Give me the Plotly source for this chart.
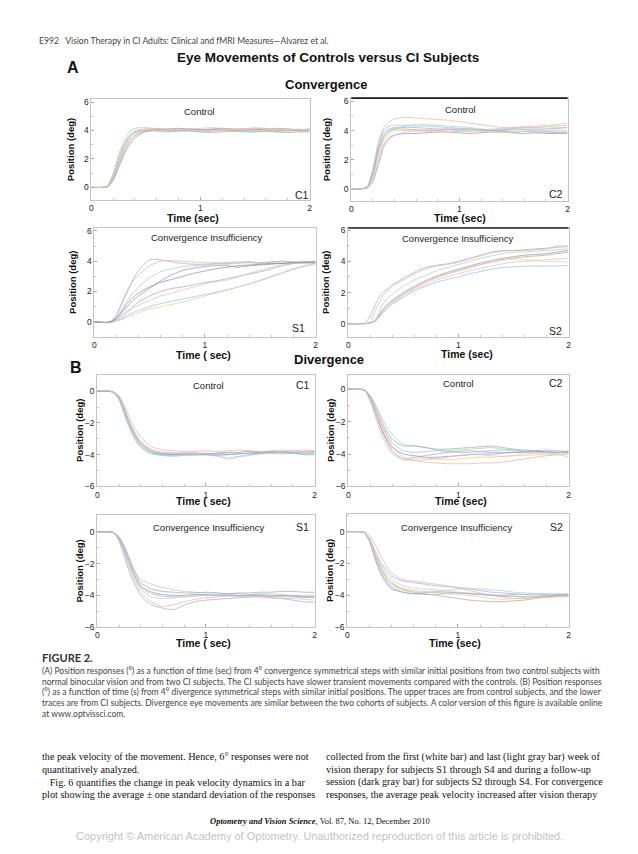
import plotly.graph_objects as go

# ---------------- data ----------------
T = [0, 0.1, 0.15, 0.2, 0.25, 0.3, 0.35, 0.4, 0.5, 0.6, 0.7, 0.8, 0.9, 1.0,
     1.1, 1.2, 1.3, 1.4, 1.5, 1.6, 1.7, 1.8, 1.9, 2.0]

conv_c1 = [
    [0, 0, 0.1, 0.8, 2.0, 3.0, 3.6, 3.9, 4.1, 4.1, 4.0, 4.1, 4.05, 4.1, 4.0, 4.1, 4.05, 4.0, 4.1, 4.05, 4.0, 4.1, 4.0, 4.05],
    [0, 0, 0.05, 0.6, 1.6, 2.6, 3.3, 3.7, 4.0, 4.05, 4.1, 4.0, 4.1, 4.0, 4.05, 4.1, 4.0, 4.1, 4.15, 4.1, 4.0, 4.0, 4.05, 4.0],
    [0, 0, 0.15, 1.0, 2.3, 3.3, 3.9, 4.15, 4.2, 4.1, 4.05, 4.0, 3.95, 4.0, 4.05, 4.0, 3.95, 4.0, 4.0, 3.95, 3.9, 3.95, 4.0, 4.0],
    [0, 0, 0.05, 0.5, 1.4, 2.3, 3.0, 3.5, 3.95, 4.05, 4.1, 4.15, 4.1, 4.05, 4.1, 4.15, 4.1, 4.1, 4.05, 4.1, 4.15, 4.1, 4.05, 4.1],
    [0, 0, 0.1, 0.7, 1.8, 2.8, 3.5, 3.85, 4.0, 3.95, 3.9, 3.95, 4.0, 3.9, 3.85, 3.9, 3.95, 3.9, 3.9, 3.95, 3.9, 3.85, 3.9, 3.9],
    [0, 0, 0.1, 0.9, 2.1, 3.1, 3.7, 4.0, 4.1, 4.15, 4.1, 4.05, 4.1, 4.15, 4.2, 4.15, 4.1, 4.1, 4.2, 4.15, 4.1, 4.05, 4.0, 4.1],
    [0, 0, 0.05, 0.55, 1.5, 2.5, 3.2, 3.65, 3.9, 4.0, 3.95, 4.0, 3.95, 3.9, 3.95, 4.0, 4.0, 3.95, 3.9, 4.0, 4.05, 4.0, 3.95, 3.95],
    [0, 0, 0.1, 0.75, 1.9, 2.9, 3.55, 3.9, 4.05, 4.0, 4.05, 4.1, 4.0, 4.05, 4.0, 3.95, 4.05, 4.1, 4.0, 4.05, 4.1, 4.05, 4.1, 4.0],
]

conv_c2 = [
    [0, 0.05, 0.2, 1.2, 2.8, 3.8, 4.1, 4.2, 4.2, 4.2, 4.15, 4.1, 4.1, 4.05, 4.1, 4.05, 4.0, 4.05, 4.1, 4.1, 4.1, 4.1, 4.15, 4.2],
    [0, 0.05, 0.2, 1.4, 3.2, 4.2, 4.6, 4.8, 4.9, 4.85, 4.8, 4.75, 4.7, 4.6, 4.5, 4.4, 4.3, 4.2, 4.2, 4.25, 4.3, 4.35, 4.4, 4.5],
    [0, 0.05, 0.15, 0.9, 2.4, 3.5, 3.9, 4.1, 4.3, 4.4, 4.4, 4.35, 4.3, 4.25, 4.2, 4.1, 4.05, 4.1, 4.15, 4.2, 4.2, 4.25, 4.3, 4.35],
    [0, 0.05, 0.1, 0.6, 1.8, 3.0, 3.5, 3.7, 3.8, 3.8, 3.85, 3.9, 3.9, 3.85, 3.8, 3.85, 3.9, 3.9, 3.85, 3.8, 3.85, 3.8, 3.8, 3.8],
    [0, 0.05, 0.15, 1.0, 2.6, 3.6, 4.0, 4.1, 4.1, 4.05, 4.0, 4.0, 4.05, 4.0, 3.95, 4.0, 4.0, 3.95, 3.9, 3.95, 3.9, 3.9, 3.85, 3.85],
    [0, 0.05, 0.1, 0.5, 1.6, 2.8, 3.4, 3.65, 3.9, 4.0, 4.05, 4.1, 4.1, 4.15, 4.1, 4.05, 4.1, 4.15, 4.2, 4.25, 4.2, 4.15, 4.2, 4.2],
    [0, 0.05, 0.2, 1.3, 3.0, 4.0, 4.3, 4.35, 4.35, 4.3, 4.3, 4.25, 4.2, 4.15, 4.1, 4.05, 4.0, 4.0, 4.05, 4.05, 4.0, 3.95, 3.95, 3.9],
    [0, 0.05, 0.15, 0.8, 2.2, 3.3, 3.8, 4.0, 4.0, 3.95, 3.95, 3.9, 3.9, 3.95, 4.0, 3.95, 3.9, 3.85, 3.9, 3.95, 4.0, 4.0, 4.05, 4.0],
]

conv_s1 = [
    [0, -0.05, 0, 0.4, 1.2, 2.0, 2.8, 3.4, 4.1, 4.1, 3.95, 3.85, 3.8, 3.8, 3.85, 3.9, 3.95, 3.95, 3.9, 3.95, 4.0, 3.95, 3.9, 3.9],
    [0, -0.05, 0.05, 0.5, 1.3, 2.1, 2.7, 3.1, 3.7, 4.0, 4.05, 4.0, 3.95, 3.9, 3.9, 3.85, 3.9, 3.95, 3.9, 3.95, 4.0, 3.95, 4.0, 3.9],
    [0, -0.05, 0, 0.3, 0.8, 1.4, 1.9, 2.3, 2.9, 3.3, 3.5, 3.65, 3.7, 3.75, 3.8, 3.8, 3.85, 3.9, 3.85, 3.9, 3.95, 3.9, 3.95, 4.0],
    [0, -0.05, 0, 0.2, 0.6, 1.0, 1.4, 1.7, 2.2, 2.7, 3.1, 3.4, 3.55, 3.65, 3.7, 3.7, 3.6, 3.7, 3.75, 3.8, 3.85, 3.9, 3.9, 3.95],
    [0, -0.05, 0, 0.15, 0.4, 0.7, 1.0, 1.3, 1.7, 2.0, 2.2, 2.3, 2.45, 2.6, 2.7, 2.85, 3.0, 3.15, 3.3, 3.5, 3.7, 3.85, 3.95, 4.0],
    [0, -0.05, -0.05, 0.1, 0.3, 0.6, 0.9, 1.1, 1.4, 1.7, 1.9, 2.1, 2.3, 2.5, 2.65, 2.75, 2.95, 3.2, 3.4, 3.6, 3.75, 3.85, 3.9, 3.95],
    [0, -0.05, -0.05, 0.05, 0.2, 0.4, 0.6, 0.75, 1.0, 1.2, 1.35, 1.5, 1.65, 1.8, 1.95, 2.1, 2.3, 2.5, 2.75, 3.0, 3.25, 3.5, 3.7, 3.85],
    [0, -0.05, -0.05, 0.05, 0.15, 0.3, 0.45, 0.6, 0.85, 1.0, 1.15, 1.3, 1.5, 1.7, 1.9, 2.1, 2.3, 2.5, 2.7, 2.95, 3.2, 3.45, 3.65, 3.8],
    [0, -0.05, 0, 0.25, 0.7, 1.2, 1.6, 1.9, 2.3, 2.6, 2.8, 3.0, 3.2, 3.35, 3.5, 3.6, 3.7, 3.75, 3.8, 3.85, 3.85, 3.9, 3.9, 3.9],
]

conv_s2 = [
    [0, 0, 0.05, 0.5, 1.3, 1.9, 2.2, 2.5, 2.9, 3.3, 3.6, 3.75, 3.85, 4.0, 4.2, 4.4, 4.6, 4.7, 4.7, 4.75, 4.8, 4.85, 4.9, 4.95],
    [0, 0, 0, 0.1, 0.9, 1.6, 2.1, 2.4, 2.8, 3.2, 3.5, 3.7, 3.8, 3.95, 4.15, 4.35, 4.55, 4.65, 4.7, 4.7, 4.75, 4.8, 5.0, 5.0],
    [0, 0, 0, 0.05, 0.3, 1.1, 1.6, 1.9, 2.4, 2.8, 3.1, 3.4, 3.6, 3.8, 4.0, 4.2, 4.35, 4.5, 4.6, 4.6, 4.65, 4.7, 4.75, 4.8],
    [0, 0, 0, 0.05, 0.2, 0.8, 1.2, 1.5, 2.0, 2.4, 2.75, 3.05, 3.3, 3.5, 3.7, 3.9, 4.05, 4.2, 4.3, 4.4, 4.45, 4.5, 4.6, 4.7],
    [0, 0, 0, 0.05, 0.2, 0.7, 1.1, 1.4, 1.9, 2.3, 2.65, 2.95, 3.2, 3.4, 3.6, 3.8, 3.95, 4.1, 4.2, 4.3, 4.35, 4.4, 4.5, 4.6],
    [0, 0, 0, 0.05, 0.2, 0.6, 1.0, 1.3, 1.8, 2.2, 2.5, 2.8, 3.0, 3.2, 3.4, 3.55, 3.7, 3.85, 3.95, 4.0, 4.05, 4.1, 4.15, 4.2],
    [0, 0, 0, 0.05, 0.2, 0.6, 0.95, 1.25, 1.7, 2.1, 2.4, 2.65, 2.85, 3.0, 3.2, 3.35, 3.5, 3.6, 3.65, 3.7, 3.7, 3.7, 3.7, 3.75],
    [0, 0, 0, 0.05, 0.25, 0.8, 1.2, 1.5, 2.0, 2.4, 2.75, 3.0, 3.2, 3.4, 3.6, 3.8, 3.95, 4.1, 4.15, 4.1, 4.05, 4.0, 4.0, 3.95],
]

div_c1 = [
    [0, 0, -0.05, -0.4, -1.2, -2.1, -2.8, -3.3, -3.8, -3.95, -4.0, -4.0, -3.95, -3.9, -3.95, -4.0, -3.95, -3.9, -3.85, -3.9, -3.95, -3.9, -3.9, -3.95],
    [0, 0, -0.05, -0.3, -0.9, -1.7, -2.4, -2.9, -3.5, -3.7, -3.75, -3.8, -3.8, -3.75, -3.8, -3.75, -3.7, -3.75, -3.8, -3.75, -3.7, -3.75, -3.7, -3.75],
    [0, 0, -0.1, -0.5, -1.4, -2.3, -3.0, -3.5, -3.9, -4.0, -4.05, -4.0, -4.05, -4.0, -4.1, -4.2, -4.1, -4.0, -3.95, -3.9, -3.85, -3.9, -3.95, -3.9],
    [0, 0, -0.05, -0.35, -1.1, -2.0, -2.7, -3.2, -3.7, -3.9, -3.95, -3.9, -3.9, -3.95, -3.9, -3.85, -3.85, -3.8, -3.85, -3.8, -3.8, -3.85, -3.8, -3.8],
    [0, 0, -0.05, -0.45, -1.3, -2.2, -2.9, -3.4, -3.85, -4.0, -4.0, -3.95, -3.95, -4.0, -4.05, -4.0, -3.95, -3.9, -3.9, -3.85, -3.85, -3.9, -4.0, -4.0],
    [0, 0, -0.05, -0.4, -1.2, -2.1, -2.8, -3.3, -3.75, -3.85, -3.85, -3.9, -3.9, -3.95, -4.0, -4.3, -4.15, -4.05, -3.95, -3.9, -3.8, -3.75, -3.8, -3.8],
    [0, 0, -0.1, -0.55, -1.5, -2.4, -3.1, -3.55, -3.95, -4.05, -4.1, -4.05, -4.0, -4.0, -3.95, -3.9, -3.9, -3.95, -3.9, -3.85, -3.8, -3.85, -3.9, -3.85],
]

div_c2 = [
    [0, 0, -0.1, -0.7, -1.6, -2.5, -3.2, -3.8, -4.3, -4.2, -4.1, -4.0, -3.9, -3.85, -3.8, -3.85, -3.9, -3.9, -3.9, -3.85, -3.8, -3.75, -3.8, -3.85],
    [0, 0, -0.05, -0.5, -1.3, -2.2, -2.9, -3.5, -4.2, -4.4, -4.5, -4.55, -4.6, -4.6, -4.6, -4.55, -4.55, -4.5, -4.4, -4.3, -4.2, -4.1, -4.05, -4.0],
    [0, 0, -0.05, -0.4, -1.0, -1.7, -2.3, -2.8, -3.4, -3.5, -3.6, -3.75, -3.8, -3.75, -3.7, -3.65, -3.6, -3.7, -3.75, -3.8, -3.8, -3.9, -4.0, -4.2],
    [0, 0, -0.1, -0.6, -1.5, -2.4, -3.1, -3.6, -4.0, -4.1, -4.2, -4.2, -4.15, -4.1, -4.05, -4.0, -4.0, -3.95, -3.9, -3.9, -3.85, -3.85, -3.9, -3.9],
    [0, 0, -0.05, -0.45, -1.1, -1.9, -2.6, -3.1, -3.5, -3.5, -3.6, -3.7, -3.7, -3.65, -3.6, -3.55, -3.5, -3.6, -3.7, -3.75, -3.8, -3.85, -3.9, -3.9],
    [0, 0, -0.1, -0.8, -1.8, -2.8, -3.5, -4.0, -4.3, -4.4, -4.35, -4.3, -4.2, -4.1, -4.0, -4.05, -4.1, -4.15, -4.1, -4.0, -3.95, -3.9, -3.85, -3.85],
    [0, 0, -0.05, -0.5, -1.3, -2.1, -2.8, -3.3, -3.8, -3.9, -3.85, -3.8, -3.85, -3.9, -3.9, -3.85, -3.8, -3.75, -3.8, -3.85, -3.9, -3.95, -3.9, -3.8],
    [0, 0, -0.1, -0.65, -1.6, -2.6, -3.3, -3.9, -4.4, -4.3, -4.25, -4.3, -4.35, -4.3, -4.25, -4.2, -4.2, -4.15, -4.1, -4.1, -4.05, -4.05, -4.0, -4.0],
]

div_s1 = [
    [0, 0, -0.05, -0.6, -1.6, -2.6, -3.4, -4.0, -4.6, -4.8, -4.9, -4.6, -4.4, -4.3, -4.25, -4.2, -4.15, -4.1, -4.1, -4.15, -4.2, -4.3, -4.4, -4.45],
    [0, 0, -0.05, -0.5, -1.4, -2.4, -3.2, -3.8, -4.4, -4.7, -4.6, -4.4, -4.25, -4.15, -4.1, -4.05, -4.0, -4.0, -4.05, -4.05, -4.1, -4.1, -4.15, -4.1],
    [0, 0, -0.05, -0.3, -0.9, -1.7, -2.5, -3.0, -3.3, -3.5, -3.65, -3.75, -3.8, -3.85, -3.85, -3.9, -3.9, -3.95, -3.9, -3.9, -3.95, -4.0, -4.0, -4.0],
    [0, 0, -0.05, -0.4, -1.1, -2.0, -2.8, -3.4, -3.8, -3.95, -4.0, -4.0, -3.95, -3.95, -4.0, -4.0, -4.05, -4.0, -4.0, -4.05, -4.0, -4.05, -4.1, -4.1],
    [0, 0, -0.05, -0.35, -1.0, -1.8, -2.6, -3.2, -3.6, -3.75, -3.8, -3.85, -3.85, -3.8, -3.85, -3.9, -3.85, -3.85, -3.8, -3.8, -3.75, -3.75, -3.8, -3.8],
    [0, 0, -0.05, -0.5, -1.3, -2.2, -3.0, -3.6, -4.1, -4.2, -4.15, -4.05, -4.0, -4.0, -3.95, -4.0, -4.05, -4.1, -4.1, -4.15, -4.2, -4.2, -4.25, -4.3],
    [0, 0, -0.05, -0.45, -1.2, -2.1, -2.9, -3.5, -3.9, -4.05, -4.1, -4.1, -4.05, -4.0, -4.0, -3.95, -4.0, -4.0, -3.95, -4.0, -4.05, -4.0, -4.05, -4.1],
]

div_s2 = [
    [0, 0, -0.05, -0.4, -1.2, -1.9, -2.4, -2.8, -3.1, -3.2, -3.3, -3.4, -3.45, -3.5, -3.6, -3.7, -3.8, -3.85, -3.9, -3.95, -4.0, -4.0, -4.0, -3.95],
    [0, 0, 0, -0.2, -0.8, -1.5, -2.1, -2.6, -3.0, -3.1, -3.2, -3.3, -3.4, -3.55, -3.7, -3.85, -4.0, -4.1, -4.2, -4.2, -4.15, -4.1, -4.05, -4.0],
    [0, 0, -0.05, -0.5, -1.5, -2.3, -2.9, -3.3, -3.6, -3.7, -3.75, -3.75, -3.7, -3.6, -3.55, -3.6, -3.65, -3.7, -3.8, -3.85, -3.9, -3.95, -3.9, -3.9],
    [0, 0, -0.05, -0.6, -1.7, -2.6, -3.2, -3.6, -3.8, -3.9, -3.85, -3.8, -3.8, -3.85, -3.9, -3.95, -4.0, -4.05, -4.05, -4.1, -4.1, -4.05, -4.0, -4.0],
    [0, 0, -0.05, -0.5, -1.4, -2.2, -2.8, -3.2, -3.6, -3.8, -3.9, -4.0, -4.1, -4.2, -4.3, -4.35, -4.4, -4.4, -4.35, -4.3, -4.2, -4.1, -4.05, -4.0],
    [0, 0, -0.05, -0.45, -1.3, -2.0, -2.6, -3.0, -3.4, -3.55, -3.6, -3.65, -3.7, -3.8, -3.85, -3.9, -3.95, -4.0, -4.05, -4.1, -4.1, -4.15, -4.1, -4.1],
    [0, 0, -0.05, -0.55, -1.6, -2.5, -3.1, -3.5, -3.8, -3.9, -3.95, -3.95, -3.9, -3.85, -3.9, -3.95, -4.0, -4.0, -3.95, -3.95, -3.9, -3.9, -3.95, -3.95],
    [0, 0, -0.05, -0.5, -1.45, -2.35, -3.0, -3.4, -3.7, -3.8, -3.8, -3.85, -3.9, -3.95, -4.0, -4.1, -4.2, -4.25, -4.2, -4.15, -4.1, -4.05, -4.05, -4.05],
]

X_TICKS = [0, 1, 2]
CONV_Y_TICKS = [0, 2, 4, 6]
DIV_Y_TICKS = [-6, -4, -2, 0]

# ---------------- layout helpers ----------------
OFF = 8                      # page body margin of the html page
W, H = 638 - OFF, 854 - OFF
COLORS = ['#9aaee0', '#eeb096', '#a8d2ae', '#9a8ebc', '#a8a8a8', '#eab8ca',
          '#92c4da', '#f2ca88', '#7e8cb0', '#bcd0ec']


def fx(x):
    return (x - OFF) / W


def fy(y):
    return 1 - (y - OFF) / H


# (data, x0, x1, y0, y1, yrange, yticks, group label, subject label, label-pos, sublabel-pos,
#  pos-title-x, time-title, time-y, time-x, dark top border)
PANELS = [
    (conv_c1, 90, 310, 97, 199, [-0.9, 6.2], CONV_Y_TICKS, 'Control', 'C1', (199, 109), (302, 194), 69, 'Time (sec)', 217, 192, False),
    (conv_c2, 352, 570, 96, 200, [-0.8, 6.2], CONV_Y_TICKS, 'Control', 'C2', (462, 107), (558, 193), 327, 'Time (sec)', 217, 462, True),
    (conv_s1, 93, 316, 227, 337, [-1.0, 6.2], CONV_Y_TICKS, 'Convergence Insufficiency', 'S1', (206, 237), (299, 328), 71, 'Time ( sec)', 355, 203, False),
    (conv_s2, 349, 571, 227, 337, [-0.85, 6.15], CONV_Y_TICKS, 'Convergence Insufficiency', 'S2', (459, 238), (558, 331), 326, 'Time (sec)', 354, 469, True),
    (div_c1, 96, 315, 375, 488, [-6, 1.05], DIV_Y_TICKS, 'Control', 'C1', (208, 386), (303, 386), 78, 'Time ( sec)', 503, 203, False),
    (div_c2, 349, 571, 375, 488, [-6, 0.9], DIV_Y_TICKS, 'Control', 'C2', (460, 384), (558, 384), 331, 'Time (sec)', 503, 463, False),
    (div_s1, 96, 315, 517, 630, [-6, 1.05], DIV_Y_TICKS, 'Convergence Insufficiency', 'S1', (208, 529), (303, 529), 78, 'Time ( sec)', 646, 203, False),
    (div_s2, 348, 571, 516, 630, [-6, 1.1], DIV_Y_TICKS, 'Convergence Insufficiency', 'S2', (458, 529), (559, 529), 330, 'Time (sec)', 646, 457, False),
]

fig = go.Figure()
layout = dict(width=W, height=H, margin=dict(l=0, r=0, t=0, b=0),
              paper_bgcolor='white', plot_bgcolor='white', showlegend=False)
annotations = []
shapes = []
AX_FONT = 'Liberation Sans, Arial, sans-serif'

for i, (data, x0, x1, y0, y1, yr, yt, grp, sub, gpos, spos, ptx, tlabel, ty, tx, dark) in enumerate(PANELS):
    n = '' if i == 0 else str(i + 1)
    for k, series in enumerate(data):
        fig.add_trace(go.Scatter(
            x=T, y=series, mode='lines', xaxis='x' + n, yaxis='y' + n,
            line=dict(color=COLORS[k % len(COLORS)], width=0.85, shape='spline', smoothing=0.6),
            opacity=0.85, hoverinfo='skip'))
    layout['xaxis' + n] = dict(
        domain=[fx(x0), fx(x1)], range=[0, 2], anchor='y' + n,
        tickvals=X_TICKS, ticks='inside', ticklen=3, tickcolor='#aaaaaa',
        minor=dict(dtick=0.2, ticks='inside', ticklen=2, tickcolor='#c8c8c8'),
        showline=True, mirror=True, linecolor='#c4c4c4', linewidth=1,
        showgrid=False, zeroline=False,
        tickfont=dict(size=8.5, color='#222222', family=AX_FONT))
    layout['yaxis' + n] = dict(
        domain=[fy(y1), fy(y0)], range=yr, anchor='x' + n,
        tickvals=yt, ticks='inside', ticklen=3, tickcolor='#aaaaaa',
        minor=dict(dtick=1, ticks='inside', ticklen=2, tickcolor='#c8c8c8'),
        showline=True, mirror=True, linecolor='#c4c4c4', linewidth=1,
        showgrid=False, zeroline=False,
        tickfont=dict(size=8.5, color='#222222', family=AX_FONT))
    if dark:
        shapes.append(dict(type='line', xref='paper', yref='paper',
                           x0=fx(x0), x1=fx(x1), y0=fy(y0), y1=fy(y0),
                           line=dict(color='#222222', width=1.6)))
    annotations += [
        dict(x=fx(gpos[0]), y=fy(gpos[1]), text=grp, font=dict(size=9.5, color='#222', family=AX_FONT)),
        dict(x=fx(spos[0]), y=fy(spos[1]), text=sub, font=dict(size=10.5, color='#222', family=AX_FONT)),
        dict(x=fx(ptx), y=fy((y0 + y1) / 2), text='<b>Position (deg)</b>', textangle=-90,
             font=dict(size=9.5, color='#111', family=AX_FONT)),
        dict(x=fx(tx), y=fy(ty), text='<b>' + tlabel + '</b>', font=dict(size=10.5, color='#111', family=AX_FONT)),
    ]

# page texts
SERIF = 'Liberation Serif, Times New Roman, serif'
SANS2 = 'Lato, Noto Sans, sans-serif'
annotations += [
    dict(x=fx(35), y=fy(38), xanchor='left',
         text='E992   Vision Therapy in CI Adults: Clinical and fMRI Measures\u2014Alvarez et al.',
         font=dict(size=8.6, color='#444', family=SANS2)),
    dict(x=fx(329), y=fy(55), text='<b>Eye Movements of Controls versus CI Subjects</b>',
         font=dict(size=13.5, color='#111', family=AX_FONT)),
    dict(x=fx(72), y=fy(65), text='<b>A</b>', font=dict(size=16, color='#111', family=AX_FONT)),
    dict(x=fx(327), y=fy(82), text='<b>Convergence</b>', font=dict(size=13, color='#111', family=AX_FONT)),
    dict(x=fx(75), y=fy(368), text='<b>B</b>', font=dict(size=16, color='#111', family=AX_FONT)),
    dict(x=fx(330), y=fy(360), text='<b>Divergence</b>', font=dict(size=13, color='#111', family=AX_FONT)),
    dict(x=fx(38), y=fy(661), xanchor='left', text='<b>FIGURE 2.</b>',
         font=dict(size=11, color='#333', family=SANS2)),
]

CAPTION = [
    '(A) Position responses (\u00b0) as a function of time (sec) from 4\u00b0 convergence symmetrical steps with similar initial positions from two control subjects with',
    'normal binocular vision and from two CI subjects. The CI subjects have slower transient movements compared with the controls. (B) Position responses',
    '(\u00b0) as a function of time (s) from 4\u00b0 divergence symmetrical steps with similar initial positions. The upper traces are from control subjects, and the lower',
    'traces are from CI subjects. Divergence eye movements are similar between the two cohorts of subjects. A color version of this figure is available online',
    'at www.optvissci.com.',
]
for j, line in enumerate(CAPTION):
    annotations.append(dict(x=fx(38), y=fy(674 + 11 * j), xanchor='left', text=line,
                            font=dict(size=8.5, color='#444', family=SANS2)))

BODY_LEFT = [
    'the peak velocity of the movement. Hence, 6\u00b0 responses were not',
    'quantitatively analyzed.',
    '   Fig. 6 quantifies the change in peak velocity dynamics in a bar',
    'plot showing the average \u00b1 one standard deviation of the responses',
]
BODY_RIGHT = [
    'collected from the first (white bar) and last (light gray bar) week of',
    'vision therapy for subjects S1 through S4 and during a follow-up',
    'session (dark gray bar) for subjects S2 through S4. For convergence',
    'responses, the average peak velocity increased after vision therapy',
]
for j, line in enumerate(BODY_LEFT):
    annotations.append(dict(x=fx(38), y=fy(761 + 12.8 * j), xanchor='left', text=line,
                            font=dict(size=10.2, color='#111', family=SERIF)))
for j, line in enumerate(BODY_RIGHT):
    annotations.append(dict(x=fx(325), y=fy(761 + 12.8 * j), xanchor='left', text=line,
                            font=dict(size=10.2, color='#111', family=SERIF)))

annotations += [
    dict(x=fx(320), y=fy(826), text='<b><i>Optometry and Vision Science</i></b>, Vol. 87, No. 12, December 2010',
         font=dict(size=8.5, color='#111', family=SERIF)),
    dict(x=fx(320), y=fy(841),
         text='Copyright \u00a9 American Academy of Optometry. Unauthorized reproduction of this article is prohibited.',
         font=dict(size=11, color='#c4c4c4', family=AX_FONT)),
]

for a in annotations:
    a.setdefault('xref', 'paper')
    a.setdefault('yref', 'paper')
    a.setdefault('showarrow', False)
    a.setdefault('xanchor', 'center')
    a.setdefault('yanchor', 'middle')

layout['annotations'] = annotations
layout['shapes'] = shapes
fig.update_layout(**layout)
fig.write_html('out.html')
